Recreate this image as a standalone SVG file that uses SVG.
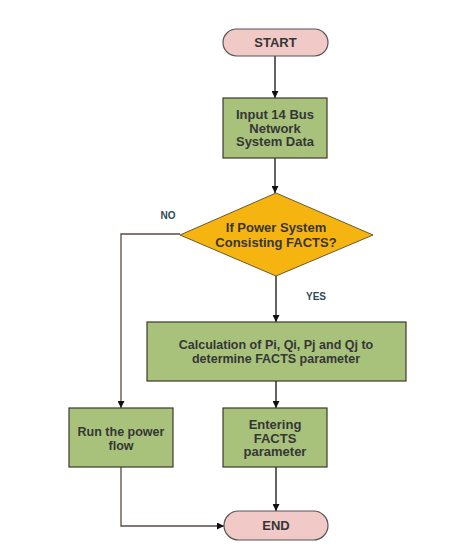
<svg xmlns="http://www.w3.org/2000/svg" width="474" height="560" viewBox="0 0 474 560">
<defs>
<style>
.box{fill:#a8c27c;stroke:#3a3a2e;stroke-width:1.2}
.term{fill:#f1c9c6;stroke:#555;stroke-width:1.2}
.dec{fill:#f6b410;stroke:#6a5a30;stroke-width:1}
.t{font-family:"Liberation Sans",Arial,sans-serif;font-size:13px;font-weight:bold;fill:#363636;text-anchor:middle}
.s{font-size:12.5px}
.lbl{font-family:"Liberation Sans",Arial,sans-serif;font-size:10px;font-weight:bold;fill:#2e4c58;text-anchor:middle}
.c{fill:none;stroke:#5a4a44;stroke-width:1.3}
.c2{fill:none;stroke:#222;stroke-width:1.4}
</style>
<marker id="ah" viewBox="0 0 10 10" refX="10" refY="5" markerWidth="7" markerHeight="7" markerUnits="userSpaceOnUse" orient="auto">
<path d="M0,0 L10,5 L0,10 z" fill="#111"/>
</marker>
</defs>
<rect width="474" height="560" fill="#fff"/>
<g id="connectors">
<line class="c2" x1="275" y1="56" x2="275" y2="98" marker-end="url(#ah)"/>
<line class="c2" x1="275" y1="158" x2="275" y2="193" marker-end="url(#ah)"/>
<line class="c2" x1="276" y1="276" x2="276" y2="322" marker-end="url(#ah)"/>
<line class="c2" x1="276" y1="381" x2="276" y2="408" marker-end="url(#ah)"/>
<line class="c2" x1="276" y1="467" x2="276" y2="511" marker-end="url(#ah)"/>
<polyline class="c" points="180,234 121,234 121,408" marker-end="url(#ah)"/>
<polyline class="c" points="121,467 121,526 224,526" marker-end="url(#ah)"/>
<text class="lbl" x="168" y="219">NO</text>
<text class="lbl" x="316" y="300">YES</text>
</g>
<g id="start">
<rect class="term" x="223" y="29" width="105" height="27" rx="13.5"/>
<text class="t" x="275.5" y="47">START</text>
</g>
<g id="input">
<rect class="box" x="223" y="98" width="104" height="60"/>
<text class="t" x="275" y="119">Input 14 Bus</text>
<text class="t" x="275" y="132.5">Network</text>
<text class="t" x="275" y="146">System Data</text>
</g>
<g id="decision">
<polygon class="dec" points="276,193 373,235 276,276 180,235"/>
<text class="t" x="276" y="232">If Power System</text>
<text class="t" x="276" y="246.5">Consisting FACTS?</text>
</g>
<g id="calc">
<rect class="box" x="147" y="322" width="259" height="59"/>
<text class="t s" x="276" y="349">Calculation of Pi, Qi, Pj and Qj to</text>
<text class="t s" x="276" y="363">determine FACTS parameter</text>
</g>
<g id="run">
<rect class="box" x="69" y="408" width="104" height="59"/>
<text class="t s" x="121" y="436">Run the power</text>
<text class="t s" x="121" y="450">flow</text>
</g>
<g id="entering">
<rect class="box" x="223" y="408" width="104" height="59"/>
<text class="t" x="275" y="429">Entering</text>
<text class="t" x="275" y="442.5">FACTS</text>
<text class="t" x="275" y="456">parameter</text>
</g>
<g id="end">
<rect class="term" x="224" y="511" width="104" height="29" rx="14.5"/>
<text class="t" x="276" y="530">END</text>
</g>
</svg>
